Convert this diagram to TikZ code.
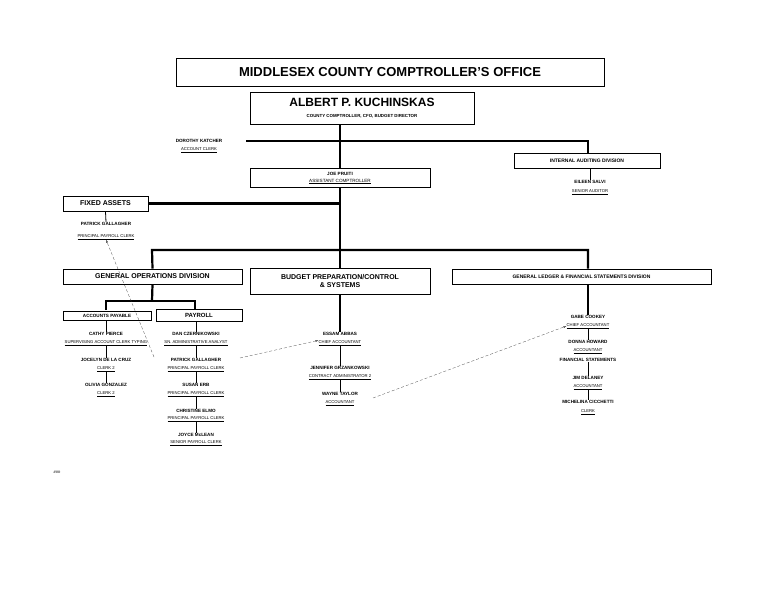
\documentclass[tikz,border=0pt]{standalone}
\usepackage{fontspec}
\setmainfont{Liberation Sans}
\usepackage{tikz}
\usetikzlibrary{arrows.meta}
\tikzset {
  % boxes
  box/.style = {draw, line width=0.9pt, inner sep=1pt, font=\bfseries\fontsize{6}{7}\selectfont},
  % a person's name and his role
  who/.style = {inner sep=0pt, font=\bfseries\fontsize{4.6}{5}\selectfont},
  role/.style = {inner sep=0pt, font=\fontsize{4.2}{5}\selectfont},
  % lines of the chart
  main/.style = {line width=2.2pt},
  link/.style = {line width=0.8pt},
  pointer/.style = {densely dashed, line width=0.3pt, gray!60!black, -{Latex[length=3pt,width=2pt]}},
}
\newcommand{\ul}[1]{\underline{#1}}

\begin{document}
\begin{tikzpicture}[x=1pt,y=-1pt]
  \useasboundingbox (0,0) rectangle (768,594);

  % heads
  \node[box, minimum width=428, minimum height=28, font=\bfseries\fontsize{13}{15}\selectfont] (title) at (390,72) {MIDDLESEX COUNTY COMPTROLLER'S OFFICE};
  \node[box, minimum width=224, minimum height=32, align=center] (albert) at (362,108)
    {{\fontsize{12}{14}\selectfont ALBERT P. KUCHINSKAS}\\[4pt]{\fontsize{4.4}{5}\selectfont COUNTY COMPTROLLER, CFO, BUDGET DIRECTOR}};
  \node[who] (dorothy) at (199,141) {DOROTHY KATCHER};
  \node[role] (dorothyr) at (199,150) {\ul{ACCOUNT CLERK}};
  \node[box, minimum width=146, minimum height=15, font=\bfseries\fontsize{5}{6}\selectfont] (audit) at (587,161) {INTERNAL AUDITING DIVISION};
  \node[who] (eileen) at (590,182) {EILEEN SALVI};
  \node[role] (eileenr) at (590,192) {\ul{SENIOR AUDITOR}};
  \node[box, minimum width=180, minimum height=19, align=center, font=\bfseries\fontsize{4.6}{5}\selectfont] (joe) at (340,178)
    {JOE PRUITI\\[2pt]{\mdseries\ul{ASSISTANT COMPTROLLER}}};
  \node[box, minimum width=85, minimum height=15, font=\bfseries\fontsize{7}{8}\selectfont] (fixed) at (105.5,203.5) {FIXED ASSETS};
  \node[who] (patrick) at (106,224) {PATRICK GALLAGHER};
  \node[role] (patrickr) at (106,237) {\ul{PRINCIPAL PAYROLL CLERK}};

  % divisions
  \node[box, minimum width=179, minimum height=15, font=\bfseries\fontsize{7}{8}\selectfont] (genops) at (152.5,276.5) {GENERAL OPERATIONS DIVISION};
  \node[box, minimum width=180, minimum height=26, align=center, font=\bfseries\fontsize{7}{8}\selectfont] (budget) at (340,281) {BUDGET PREPARATION/CONTROL\\\& SYSTEMS};
  \node[box, minimum width=259, minimum height=15, font=\bfseries\fontsize{5}{6}\selectfont] (ledger) at (581.5,276.5) {GENERAL LEDGER \& FINANCIAL STATEMENTS DIVISION};
  \node[box, minimum width=88, minimum height=9, font=\bfseries\fontsize{4.6}{5}\selectfont] (payable) at (107,315.5) {ACCOUNTS PAYABLE};
  \node[box, minimum width=86, minimum height=12, font=\bfseries\fontsize{6}{7}\selectfont] (payroll) at (199,315) {PAYROLL};

  % accounts payable
  \node[who] (cathy) at (106,334) {CATHY PIERCE};
  \node[role] (cathyr) at (106,343) {\ul{SUPERVISING ACCOUNT CLERK TYPING}};
  \node[who] (jocelyn) at (106,360) {JOCELYN DE LA CRUZ};
  \node[role] (jocelynr) at (106,369) {\ul{CLERK 2}};
  \node[who] (olivia) at (106,385) {OLIVIA GONZALEZ};
  \node[role] (oliviar) at (106,394) {\ul{CLERK 2}};

  % payroll
  \node[who] (dan) at (196,334) {DAN CZERNIKOWSKI};
  \node[role] (danr) at (196,343) {\ul{SN. ADMINISTRATIVE ANALYST}};
  \node[who] (patrick2) at (196,360) {PATRICK GALLAGHER};
  \node[role] (patrick2r) at (196,369) {\ul{PRINCIPAL PAYROLL CLERK}};
  \node[who] (susan) at (196,385) {SUSAN ERB};
  \node[role] (susanr) at (196,394) {\ul{PRINCIPAL PAYROLL CLERK}};
  \node[who] (christine) at (196,411) {CHRISTINE ELMO};
  \node[role] (christiner) at (196,419) {\ul{PRINCIPAL PAYROLL CLERK}};
  \node[who] (joyce) at (196,435) {JOYCE McLEAN};
  \node[role] (joycer) at (196,443) {\ul{SENIOR PAYROLL CLERK}};

  % budget
  \node[who] (essam) at (340,334) {ESSAM ABBAS};
  \node[role] (essamr) at (340,343) {\ul{CHIEF ACCOUNTANT}};
  \node[who] (jennifer) at (340,368) {JENNIFER GRZANKOWSKI};
  \node[role] (jenniferr) at (340,377) {\ul{CONTRACT ADMINISTRATOR 2}};
  \node[who] (wayne) at (340,394) {WAYNE TAYLOR};
  \node[role] (wayner) at (340,403) {\ul{ACCOUNTANT}};

  % general ledger
  \node[who] (gabe) at (588,317) {GABE COOKEY};
  \node[role] (gaber) at (588,326) {\ul{CHIEF ACCOUNTANT}};
  \node[who] (donna) at (588,342) {DONNA HOWARD};
  \node[role] (donnar) at (588,351) {\ul{ACCOUNTANT}};
  \node[who] (fin) at (588,360) {FINANCIAL STATEMENTS};
  \node[role] (jimr) at (588,387) {\ul{ACCOUNTANT}};
  \node[who] (jim) at (588,378) {JIM DELANEY};
  \node[who] (michelina) at (588,402) {MICHELINA CICCHETTI};
  \node[role] (michelinar) at (588,412) {\ul{CLERK}};

  \node[who, font=\fontsize{4}{5}\selectfont] (hash) at (57,472) {\#\#\#};

  % main lines
  \draw[main] (albert.south -| joe.north) -- (joe.north);
  \draw[main] (dorothy.east -| 246,0) -- (588,141) -- (audit.north -| 588,0);
  \draw[main] (joe.south) -- (budget.north);
  \draw[main] (fixed.east) -- (340,203.5);
  \draw[main] (genops.north) -- (152,250) -- (588,250) -- (ledger.north -| 588,0);
  \draw[main] (genops.south) -- (152,301);
  \draw[main] (106,310) -- (106,301) -- (195,301) -- (195,309);
  \draw[main] (budget.south) -- (essam.north);
  \draw[main] (ledger.south -| 588,0) -- (gabe.north);

  % links between people
  \draw[link] (audit.south -| eileen) -- (eileen.north);
  \draw[link] (fixed.south) -- (patrick.north);
  \foreach \a/\b in {payable/cathy, cathyr/jocelyn, jocelynr/olivia}
    \draw[link] (\a.south -| 106,0) -- (\b.north -| 106,0);
  \foreach \a/\b in {payroll/dan, danr/patrick2, patrick2r/susan, susanr/christine, christiner/joyce}
    \draw[link] (\a.south -| 196,0) -- (\b.north -| 196,0);
  \foreach \a/\b in {essamr/jennifer, jenniferr/wayne}
    \draw[link] (\a.south) -- (\b.north);
  \foreach \a/\b in {gaber/donna, fin/jim, jimr/michelina}
    \draw[link] (\a.south) -- (\b.north);

  % pointers
  \coordinate (p1) at (154,357);
  \coordinate (p2) at (240,358);
  \coordinate (p3) at (373,398);
  \draw[pointer] (p1) -- (patrickr.south);
  \draw[pointer] (p2) -- (essamr.north west);
  \draw[pointer] (p3) -- (gaber.west);
\end{tikzpicture}
\end{document}
